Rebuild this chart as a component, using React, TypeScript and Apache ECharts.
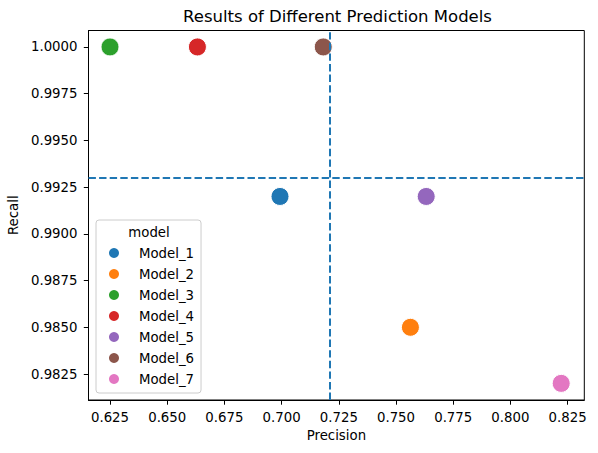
import React, { useEffect, useRef } from "react";
import * as echarts from "echarts";

const models = ["Model_1", "Model_2", "Model_3", "Model_4", "Model_5", "Model_6", "Model_7"];
const precision = [0.6993, 0.7563, 0.625, 0.6632, 0.7632, 0.7182, 0.8222];
const recall = [0.992, 0.985, 1.0, 1.0, 0.992, 1.0, 0.982];
const colors = ["#1f77b4", "#ff7f0e", "#2ca02c", "#d62728", "#9467bd", "#8c564b", "#e377c2"];
const xTicks = [0.625, 0.65, 0.675, 0.7, 0.725, 0.75, 0.775, 0.8, 0.825];
const yTicks = [0.9825, 0.985, 0.9875, 0.99, 0.9925, 0.995, 0.9975, 1.0];

const FONT = "DejaVu Sans";

const mean = (a: number[]) => a.reduce((s, v) => s + v, 0) / a.length;

const App = () => {
  const ref = useRef<HTMLDivElement>(null);

  useEffect(() => {
    document.body.style.margin = "0";
    const chart = echarts.init(ref.current!, null, { renderer: "svg" });

    const scatter = models.map((name, i) => ({
      type: "scatter",
      name,
      data: [[precision[i], recall[i]]],
      symbolSize: 18,
      z: 2,
      itemStyle: { color: colors[i], borderColor: "#fff", borderWidth: 1, opacity: 1 },
      emphasis: { disabled: true }
    }));

    chart.setOption({
      animation: false,
      backgroundColor: "#fff",
      textStyle: { fontFamily: FONT },
      title: {
        text: "Results of Different Prediction Models",
        left: 332.5,
        top: 3,
        textAlign: "center",
        textStyle: { fontFamily: FONT, fontSize: 16.5, fontWeight: "normal", color: "#000" }
      },
      grid: {
        left: 88.5,
        right: 13.7,
        top: 30.5,
        bottom: 53,
        show: true,
        borderColor: "#000",
        borderWidth: 1,
        containLabel: false,
        outerBoundsMode: "none"
      },
      legend: {
        data: models,
        orient: "vertical",
        left: 96,
        top: 220,
        padding: [26, 7, 7, 13],
        itemWidth: 10,
        itemHeight: 10,
        itemGap: 7,
        icon: "circle",
        itemStyle: { borderWidth: 0 },
        backgroundColor: "rgba(255,255,255,0.8)",
        borderColor: "#cccccc",
        borderWidth: 1,
        borderRadius: 3,
        selectedMode: false,
        textStyle: {
          fontFamily: FONT,
          fontSize: 13.3,
          color: "#000",
          lineHeight: 14,
          padding: [0, 0, 0, 15]
        }
      },
      graphic: [
        {
          type: "text",
          x: 149,
          y: 232.7,
          z: 100,
          style: {
            text: "model",
            fontFamily: FONT,
            fontSize: 13.3,
            fill: "#000",
            textAlign: "center",
            textVerticalAlign: "middle"
          }
        }
      ],
      xAxis: {
        type: "value",
        min: 0.6156,
        max: 0.8323,
        name: "Precision",
        nameLocation: "middle",
        nameGap: 27,
        nameTextStyle: { fontFamily: FONT, fontSize: 13.3, color: "#000" },
        axisLine: { show: true, lineStyle: { color: "#000", width: 1 } },
        axisTick: { show: true, length: 4.7, lineStyle: { color: "#000", width: 1 }, customValues: xTicks },
        axisLabel: {
          margin: 11,
          fontFamily: FONT,
          fontSize: 13.3,
          color: "#000",
          customValues: xTicks,
          formatter: (v: number) => v.toFixed(3)
        },
        splitLine: { show: false }
      },
      yAxis: {
        type: "value",
        min: 0.98111,
        max: 1.00088,
        name: "Recall",
        nameLocation: "middle",
        nameGap: 60,
        nameTextStyle: { fontFamily: FONT, fontSize: 13.3, color: "#000" },
        axisLine: { show: true, lineStyle: { color: "#000", width: 1 } },
        axisTick: { show: true, length: 4.7, lineStyle: { color: "#000", width: 1 }, customValues: yTicks },
        axisLabel: {
          margin: 11,
          fontFamily: FONT,
          fontSize: 13.3,
          color: "#000",
          customValues: yTicks,
          formatter: (v: number) => v.toFixed(4)
        },
        splitLine: { show: false }
      },
      series: [
        ...scatter,
        {
          type: "scatter",
          name: "mean",
          data: [],
          z: 5,
          silent: true,
          markLine: {
            silent: true,
            symbol: "none",
            precision: 6,
            label: { show: false },
            lineStyle: { color: "#1f77b4", width: 2, type: [7.4, 3.2] },
            emphasis: { disabled: true },
            data: [{ xAxis: mean(precision) }, { yAxis: mean(recall) }]
          }
        }
      ]
    });

    return () => {
      chart.dispose();
    };
  }, []);

  return (
    <div
      ref={ref}
      style={{ position: "fixed", left: 0, top: 0, width: 598, height: 453 }}
    />
  );
};

export default App;
